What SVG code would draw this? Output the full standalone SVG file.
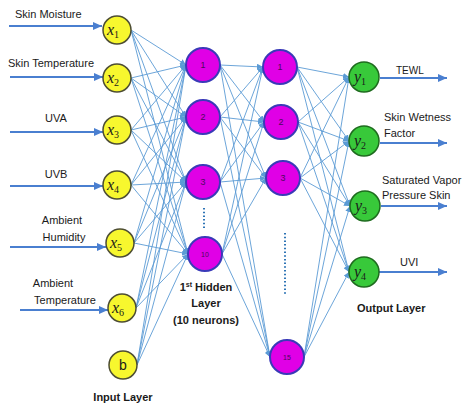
<svg xmlns="http://www.w3.org/2000/svg" width="474" height="414" viewBox="0 0 474 414">
<style>
.lbl{font-family:"Liberation Sans",Arial,sans-serif;font-size:11px;fill:#1a1a1a}
.bold{font-family:"Liberation Sans",Arial,sans-serif;font-size:11px;font-weight:bold;fill:#1a1a1a}
.in{fill:#f7f72e;stroke:#4d4d33;stroke-width:1.5}
.hid{fill:#e000e6;stroke:#3a3ab8;stroke-width:2}
.out{fill:#38c93a;stroke:#1e6b1e;stroke-width:1.5}
.var{font-family:"Liberation Serif","Times New Roman",serif;font-style:italic;font-size:16px;fill:#1a1a1a}
.sub{font-size:10px;font-style:normal}
.num{font-family:"Liberation Sans",Arial,sans-serif;font-size:9px;fill:#4a0a5a;text-anchor:middle}
.c{stroke:#5b9bd5;stroke-width:0.9;fill:none;marker-end:url(#ah)}
.io{stroke:#4a7fd0;stroke-width:2;fill:none;marker-end:url(#big)}
.dots{stroke:#2e74b5;stroke-width:2;stroke-dasharray:1.5 2.2;fill:none}
</style>
<defs>
<marker id="ah" markerUnits="userSpaceOnUse" markerWidth="6" markerHeight="6" refX="6" refY="3" orient="auto"><path d="M0,0 L6,3 L0,6 z" fill="#5b9bd5"/></marker>
<marker id="big" markerUnits="userSpaceOnUse" markerWidth="9" markerHeight="8" refX="9" refY="4" orient="auto"><path d="M0,0 L9,4 L0,8 z" fill="#4a7fd0"/></marker>
</defs>
<rect width="474" height="414" fill="#ffffff"/>
<g id="connectors">
<path class="c" d="M131,30 L186,65"/><path class="c" d="M131,30 L186,117"/><path class="c" d="M131,30 L186,182"/><path class="c" d="M131,30 L188,254"/>
<path class="c" d="M131,78 L186,65"/><path class="c" d="M131,78 L186,117"/><path class="c" d="M131,78 L186,182"/><path class="c" d="M131,78 L188,254"/>
<path class="c" d="M131,130 L186,65"/><path class="c" d="M131,130 L186,117"/><path class="c" d="M131,130 L186,182"/><path class="c" d="M131,130 L188,254"/>
<path class="c" d="M131,185 L186,65"/><path class="c" d="M131,185 L186,117"/><path class="c" d="M131,185 L186,182"/><path class="c" d="M131,185 L188,254"/>
<path class="c" d="M134,243 L186,65"/><path class="c" d="M134,243 L186,117"/><path class="c" d="M134,243 L186,182"/><path class="c" d="M134,243 L188,254"/>
<path class="c" d="M136,308 L186,65"/><path class="c" d="M136,308 L186,117"/><path class="c" d="M136,308 L186,182"/><path class="c" d="M136,308 L188,254"/>
<path class="c" d="M137,365 L186,65"/><path class="c" d="M137,365 L186,117"/><path class="c" d="M137,365 L186,182"/><path class="c" d="M137,365 L188,254"/>
<path class="c" d="M220,65 L263,67"/><path class="c" d="M220,65 L264,122"/><path class="c" d="M220,65 L266,178"/><path class="c" d="M220,65 L270,357"/>
<path class="c" d="M220,117 L263,67"/><path class="c" d="M220,117 L264,122"/><path class="c" d="M220,117 L266,178"/><path class="c" d="M220,117 L270,357"/>
<path class="c" d="M220,182 L263,67"/><path class="c" d="M220,182 L264,122"/><path class="c" d="M220,182 L266,178"/><path class="c" d="M220,182 L270,357"/>
<path class="c" d="M222,254 L263,67"/><path class="c" d="M222,254 L264,122"/><path class="c" d="M222,254 L266,178"/><path class="c" d="M222,254 L270,357"/>
<path class="c" d="M297,67 L349,77"/><path class="c" d="M297,67 L349,141"/><path class="c" d="M297,67 L350,206"/><path class="c" d="M297,67 L349,272"/>
<path class="c" d="M298,122 L349,77"/><path class="c" d="M298,122 L349,141"/><path class="c" d="M298,122 L350,206"/><path class="c" d="M298,122 L349,272"/>
<path class="c" d="M300,178 L349,77"/><path class="c" d="M300,178 L349,141"/><path class="c" d="M300,178 L350,206"/><path class="c" d="M300,178 L349,272"/>
<path class="c" d="M304,357 L349,77"/><path class="c" d="M304,357 L349,141"/><path class="c" d="M304,357 L350,206"/><path class="c" d="M304,357 L349,272"/>
<path class="io" d="M9,26 L102,26"/>
<path class="io" d="M10,77 L103,77"/>
<path class="io" d="M10,132 L103,132"/>
<path class="io" d="M10,186 L103,186"/>
<path class="io" d="M10,247 L106,247"/>
<path class="io" d="M20,310 L108,310"/>
<path class="io" d="M380,78 L447,78"/>
<path class="io" d="M380,143 L447,143"/>
<path class="io" d="M381,206 L447,206"/>
<path class="io" d="M379,272 L447,272"/>
</g>
<g id="x1"><circle class="in" cx="117" cy="30" r="14"/><text class="var" x="107" y="35">x<tspan class="sub" dy="3">1</tspan></text></g>
<g id="x2"><circle class="in" cx="117" cy="78" r="14"/><text class="var" x="107" y="83">x<tspan class="sub" dy="3">2</tspan></text></g>
<g id="x3"><circle class="in" cx="117" cy="130" r="14"/><text class="var" x="107" y="135">x<tspan class="sub" dy="3">3</tspan></text></g>
<g id="x4"><circle class="in" cx="117" cy="185" r="14"/><text class="var" x="107" y="190">x<tspan class="sub" dy="3">4</tspan></text></g>
<g id="x5"><circle class="in" cx="120" cy="243" r="14"/><text class="var" x="110" y="248">x<tspan class="sub" dy="3">5</tspan></text></g>
<g id="x6"><circle class="in" cx="122" cy="308" r="14"/><text class="var" x="112" y="313">x<tspan class="sub" dy="3">6</tspan></text></g>
<g id="b"><circle class="in" cx="123" cy="365" r="14"/><text x="123" y="370" text-anchor="middle" style="font-family:'Liberation Sans',Arial,sans-serif;font-size:14px;fill:#1a1a1a">b</text></g>
<g id="h1-1"><circle class="hid" cx="203" cy="65" r="17"/><text class="num" x="203" y="68">1</text></g>
<g id="h1-2"><circle class="hid" cx="203" cy="117" r="17"/><text class="num" x="203" y="120">2</text></g>
<g id="h1-3"><circle class="hid" cx="203" cy="182" r="17"/><text class="num" x="203" y="185">3</text></g>
<g id="h1-10"><circle class="hid" cx="205" cy="254" r="17"/><text class="num" x="205" y="257" style="font-size:7px">10</text></g>
<g id="h2-1"><circle class="hid" cx="280" cy="67" r="17"/><text class="num" x="280" y="70">1</text></g>
<g id="h2-2"><circle class="hid" cx="281" cy="122" r="17"/><text class="num" x="281" y="125">2</text></g>
<g id="h2-3"><circle class="hid" cx="283" cy="178" r="17"/><text class="num" x="283" y="181">3</text></g>
<g id="h2-15"><circle class="hid" cx="287" cy="357" r="17"/><text class="num" x="287" y="360" style="font-size:7px">15</text></g>
<g id="dots"><path class="dots" d="M204,208 L204,228"/><path class="dots" d="M285,233 L285,296"/></g>
<g id="y1"><circle class="out" cx="364" cy="77" r="15"/><text class="var" x="354" y="82">y<tspan class="sub" dy="3">1</tspan></text></g>
<g id="y2"><circle class="out" cx="364" cy="141" r="15"/><text class="var" x="354" y="146">y<tspan class="sub" dy="3">2</tspan></text></g>
<g id="y3"><circle class="out" cx="365" cy="206" r="15"/><text class="var" x="355" y="211">y<tspan class="sub" dy="3">3</tspan></text></g>
<g id="y4"><circle class="out" cx="364" cy="272" r="15"/><text class="var" x="354" y="277">y<tspan class="sub" dy="3">4</tspan></text></g>
<g id="labels">
<text class="lbl" x="15" y="18">Skin Moisture</text>
<text class="lbl" x="8" y="67">Skin Temperature</text>
<text class="lbl" x="56" y="122" text-anchor="middle">UVA</text>
<text class="lbl" x="56" y="178" text-anchor="middle">UVB</text>
<text class="lbl" x="62" y="224" text-anchor="middle">Ambient</text>
<text class="lbl" x="64" y="241" text-anchor="middle">Humidity</text>
<text class="lbl" x="53" y="287" text-anchor="middle">Ambient</text>
<text class="lbl" x="65" y="304" text-anchor="middle">Temperature</text>
<text class="bold" x="123" y="401" text-anchor="middle">Input Layer</text>
<text class="bold" x="206" y="291" text-anchor="middle">1<tspan style="font-size:7px" dy="-4">st</tspan><tspan dy="4"> Hidden</tspan></text>
<text class="bold" x="206" y="307" text-anchor="middle">Layer</text>
<text class="bold" x="206" y="324" text-anchor="middle">(10 neurons)</text>
<text class="lbl" x="396" y="74" style="font-size:10px">TEWL</text>
<text class="lbl" x="384" y="121">Skin Wetness</text>
<text class="lbl" x="384" y="137">Factor</text>
<text class="lbl" x="382" y="184">Saturated Vapor</text>
<text class="lbl" x="382" y="199">Pressure Skin</text>
<text class="lbl" x="400" y="266">UVI</text>
<text class="bold" x="357" y="312">Output Layer</text>
</g>
</svg>
